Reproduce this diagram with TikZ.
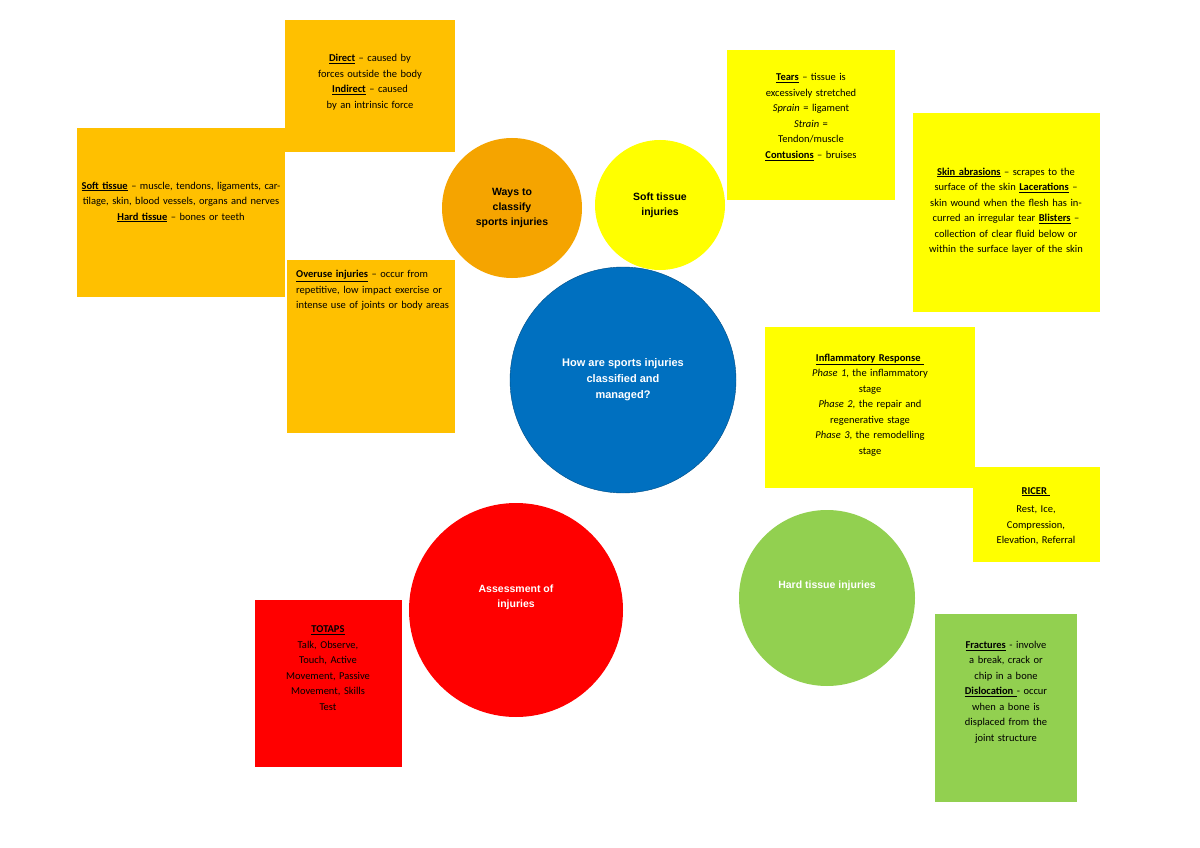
\documentclass[tikz,border=0pt]{standalone}
\usepackage{fontspec}
\setmainfont{Carlito}
\newfontfamily\arialf{Liberation Sans}
\definecolor{orbox}{HTML}{FFC000}
\definecolor{orcirc}{HTML}{F5A400}
\definecolor{ylw}{HTML}{FFFF00}
\definecolor{blu}{HTML}{0070C0}
\definecolor{rd}{HTML}{FF0000}
\definecolor{grn}{HTML}{92D050}
\begin{document}
\begin{tikzpicture}[x=1pt,y=-1pt,
  txt/.style={align=center,font=\fontsize{10.5}{15.5}\selectfont,inner sep=0pt},
  circ/.style={circle,inner sep=0pt,align=center,font=\arialf\bfseries\fontsize{10.5}{15}\selectfont}]
\useasboundingbox (0,0) rectangle (1200,848);
\fill[white] (0,0) rectangle (1200,848);
% boxes
\fill[orbox] (285,20) rectangle (455,152);
\fill[orbox] (77,128) rectangle (285,297);
\fill[orbox] (287,260) rectangle (455,433);
\fill[ylw] (727,50) rectangle (895,200);
\fill[ylw] (913,113) rectangle (1100,312);
\fill[ylw] (765,327) rectangle (975,488);
\fill[ylw] (973,467) rectangle (1100,562);
\fill[rd] (255,600) rectangle (402,767);
\fill[grn] (935,614) rectangle (1077,802);
% circles
\node[circ,fill=orcirc,minimum size=140pt] (ways) at (512,208) {Ways to\\classify\\sports injuries};
\node[circ,fill=ylw,minimum size=130pt] (soft) at (660,205) {Soft tissue\\injuries};
\node[circ,fill=blu,draw=blu!70!black,minimum size=226pt,text=white,font=\arialf\bfseries\fontsize{11}{16}\selectfont] (main) at (623,380) {How are sports injuries\\classified and\\managed?};
\node[circ,fill=rd,minimum size=214pt,text=white] (assess) at (516,610) {Assessment of\\injuries\\[12pt]};
\node[circ,fill=grn,minimum size=176pt,text=white] (hard) at (827,598) {Hard tissue injuries\\[12pt]};
% texts
\node[txt,text width=165pt] (t1) at (370,82) {\underline{\textbf{Direct}} -- caused by forces outside the body\\\underline{\textbf{Indirect}} -- caused by an intrinsic force};
\node[txt,text width=200pt] (t2) at (181,202) {\underline{\textbf{Soft tissue}} -- muscle, tendons, ligaments, cartilage, skin, blood vessels, organs and nerves\\\underline{\textbf{Hard tissue}} -- bones or teeth};
\node[txt,text width=160pt,align=left,anchor=north west] (t3) at (296,270) {\underline{\textbf{Overuse injuries}} -- occur from repetitive, low impact exercise or intense use of joints or body areas};
\node[txt,text width=160pt] (t4) at (811,117) {\underline{\textbf{Tears}} -- tissue is\\excessively stretched\\\textit{Sprain} = ligament\\\textit{Strain} =\\Tendon/muscle\\\underline{\textbf{Contusions}} -- bruises};
\node[txt,text width=180pt] (t5) at (1006,211) {\underline{\textbf{Skin abrasions}} -- scrapes to the surface of the skin \underline{\textbf{Lacerations}} -- skin wound when the flesh has incurred an irregular tear \underline{\textbf{Blisters}} -- collection of clear fluid below or within the surface layer of the skin};
\node[txt,text width=205pt] (t6) at (870,405) {\underline{\textbf{Inflammatory Response }}\\\textit{Phase 1}, the inflammatory\\stage\\\textit{Phase 2}, the repair and\\regenerative stage\\\textit{Phase 3}, the remodelling\\stage};
\node[txt,text width=125pt] (t7) at (1036,516) {\underline{\textbf{RICER }}\\[3pt]Rest, Ice,\\Compression,\\Elevation, Referral};
\node[txt,text width=140pt] (t8) at (328,668) {\underline{\textbf{TOTAPS}}\\Talk, Observe,\\Touch, Active\\Movement, Passive\\Movement, Skills\\Test};
\node[txt,text width=138pt] (t9) at (1006,692) {\underline{\textbf{Fractures}} - involve\\a break, crack or\\chip in a bone\\\underline{\textbf{Dislocation }}- occur\\when a bone is\\displaced from the\\joint structure};
\end{tikzpicture}
\end{document}
